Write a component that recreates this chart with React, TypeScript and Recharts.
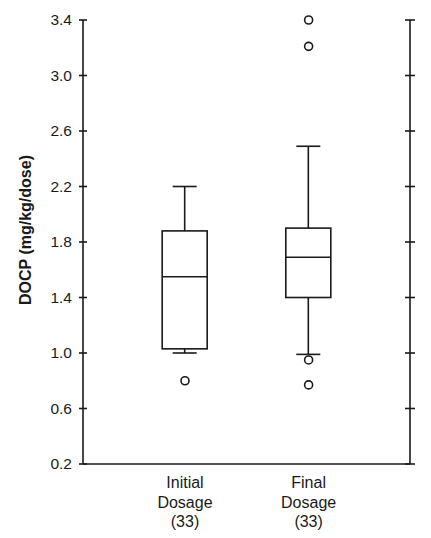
import React from "react";
import { ComposedChart, Bar, Scatter, XAxis, YAxis } from "recharts";

// groups along the x axis
const categories = ["Initial Dosage (33)", "Final Dosage (33)"];
const labelLines = [
    ["Initial", "Dosage", "(33)"],
    ["Final", "Dosage", "(33)"],
];
const positions = [1, 2];

// box plot summary values (mg/kg/dose)
const q1 = [1.03, 1.4];
const median = [1.55, 1.69];
const q3 = [1.88, 1.9];
const whiskerLow = [1.0, 0.99];
const whiskerHigh = [2.2, 2.49];

// outliers per group
const initialOutliers = [0.8];
const finalOutliers = [3.4, 3.21, 0.95, 0.77];

const yTicks = [0.2, 0.6, 1.0, 1.4, 1.8, 2.2, 2.6, 3.0, 3.4];

const INK = "#1a1a1a";
const FONT = "'Liberation Sans', Arial, sans-serif";

const boxData = categories.map((name, i) => ({
    name,
    x: positions[i],
    box: [q1[i], q3[i]],
    q1: q1[i],
    q3: q3[i],
    median: median[i],
    low: whiskerLow[i],
    high: whiskerHigh[i],
}));

const outlierData = [
    ...initialOutliers.map((v) => ({ x: positions[0], y: v })),
    ...finalOutliers.map((v) => ({ x: positions[1], y: v })),
];

const BoxShape = (props: any) => {
    const { x, y, width, height, payload } = props;
    const p = payload;
    const ppu = height / (p.q3 - p.q1);
    const yOf = (v: number) => y + (p.q3 - v) * ppu;
    const cx = x + width / 2;
    const cap = 12;
    return (
        <g stroke={INK} strokeWidth={1.6} fill="none">
            <rect x={x} y={y} width={width} height={height} />
            <line x1={x} x2={x + width} y1={yOf(p.median)} y2={yOf(p.median)} />
            <line x1={cx} x2={cx} y1={yOf(p.q3)} y2={yOf(p.high)} />
            <line x1={cx - cap} x2={cx + cap} y1={yOf(p.high)} y2={yOf(p.high)} />
            <line x1={cx} x2={cx} y1={yOf(p.q1)} y2={yOf(p.low)} />
            <line x1={cx - cap} x2={cx + cap} y1={yOf(p.low)} y2={yOf(p.low)} />
        </g>
    );
};

const OutlierShape = (props: any) => (
    <circle cx={props.cx} cy={props.cy} r={4} fill="#fff" stroke={INK} strokeWidth={1.6} />
);

const LeftTick = (props: any) => {
    const { x, y, payload } = props;
    return (
        <g>
            <line x1={x - 4} x2={x + 4} y1={y} y2={y} stroke={INK} strokeWidth={1.6} />
            <text x={x - 11} y={y} dy={5} textAnchor="end" fontSize={15.5} fontFamily={FONT} fill={INK}>
                {payload.value.toFixed(1)}
            </text>
        </g>
    );
};

const RightTick = (props: any) => {
    const { x, y } = props;
    return <line x1={x - 5} x2={x + 5} y1={y} y2={y} stroke={INK} strokeWidth={1.6} />;
};

const CategoryTick = (props: any) => {
    const { x, y, payload } = props;
    const idx = positions.indexOf(payload.value);
    const lines = labelLines[idx] || [];
    return (
        <text x={x} y={y} textAnchor="middle" fontSize={16} fontFamily={FONT} fill={INK}>
            {lines.map((l, i) => (
                <tspan key={i} x={x} dy={i === 0 ? 24 : 19.5}>
                    {l}
                </tspan>
            ))}
        </text>
    );
};

const YLabel = (props: any) => {
    const { viewBox } = props;
    const lx = viewBox.x + 8;
    const ly = viewBox.y + viewBox.height / 2 - 12;
    return (
        <text
            x={lx}
            y={ly}
            transform={`rotate(-90, ${lx}, ${ly})`}
            textAnchor="middle"
            fontSize={16}
            fontWeight="bold"
            fontFamily={FONT}
            fill={INK}
        >
            DOCP (mg/kg/dose)
        </text>
    );
};

export default function App() {
    return (
        <div style={{ width: 431, height: 538, background: "#fff" }}>
            <style>{`body{margin:0;background:#fff}`}</style>
            <ComposedChart
                width={431}
                height={538}
                data={boxData}
                margin={{ top: 20, right: 10, bottom: 14, left: 23 }}
            >
                <XAxis
                    dataKey="x"
                    type="number"
                    domain={[0.175, 2.82]}
                    ticks={positions}
                    height={60}
                    tickLine={false}
                    tickSize={0}
                    tickMargin={0}
                    axisLine={{ stroke: INK, strokeWidth: 1.6 }}
                    tick={<CategoryTick />}
                />
                <YAxis
                    yAxisId="left"
                    type="number"
                    domain={[0.2, 3.4]}
                    ticks={yTicks}
                    width={60}
                    tickLine={false}
                    tickSize={0}
                    tickMargin={0}
                    axisLine={{ stroke: INK, strokeWidth: 1.6 }}
                    tick={<LeftTick />}
                    label={<YLabel />}
                />
                <YAxis
                    yAxisId="right"
                    orientation="right"
                    type="number"
                    domain={[0.2, 3.4]}
                    ticks={yTicks}
                    allowDataOverflow
                    width={11}
                    tickLine={false}
                    tickSize={0}
                    tickMargin={0}
                    axisLine={{ stroke: INK, strokeWidth: 1.6 }}
                    tick={<RightTick />}
                />
                <Bar
                    yAxisId="left"
                    dataKey="box"
                    barSize={45}
                    shape={<BoxShape />}
                    isAnimationActive={false}
                />
                <Scatter
                    yAxisId="left"
                    data={outlierData}
                    dataKey="y"
                    shape={<OutlierShape />}
                    isAnimationActive={false}
                />
            </ComposedChart>
        </div>
    );
}
